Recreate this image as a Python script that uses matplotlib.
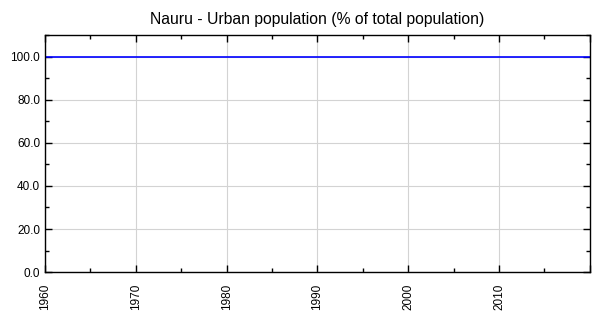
import matplotlib
matplotlib.use("Agg")
import matplotlib.pyplot as plt
from matplotlib.ticker import MultipleLocator, FormatStrFormatter

plt.rcParams["font.family"] = ["Liberation Sans", "DejaVu Sans"]

# Data: urban population share, Nauru (every year 1960-2020)
years = list(range(1960, 2021))
urban_pct = [100.0] * len(years)

fig = plt.figure(figsize=(6, 3.15), dpi=100)
ax = fig.add_axes([0.075, 0.136, 0.908, 0.753])

ax.plot(years, urban_pct, color="#0000ff", linewidth=1.2)

ax.set_xlim(1960, 2020)
ax.set_ylim(0, 110)
ax.xaxis.set_major_locator(MultipleLocator(10))
ax.xaxis.set_minor_locator(MultipleLocator(5))
ax.yaxis.set_major_locator(MultipleLocator(20))
ax.yaxis.set_minor_locator(MultipleLocator(10))
ax.yaxis.set_major_formatter(FormatStrFormatter("%.1f"))

ax.grid(True, which="major", color="#d3d3d3", linewidth=0.8)
ax.set_axisbelow(True)
ax.tick_params(which="both", direction="in", top=True, right=True, labelsize=8.5, width=1)
ax.tick_params(which="major", length=5)
ax.tick_params(which="minor", length=3)
ax.tick_params(axis="x", pad=8)
fig.canvas.draw()
xlabels = ax.get_xticklabels()
for lbl in xlabels:
    lbl.set_rotation(90)
    if lbl.get_text() == "2020":
        lbl.set_visible(False)
for sp in ax.spines.values():
    sp.set_linewidth(1.0)

ax.set_title("Nauru - Urban population (% of total population)", fontsize=11.3, pad=8)

fig.savefig("out.png", dpi=100)
